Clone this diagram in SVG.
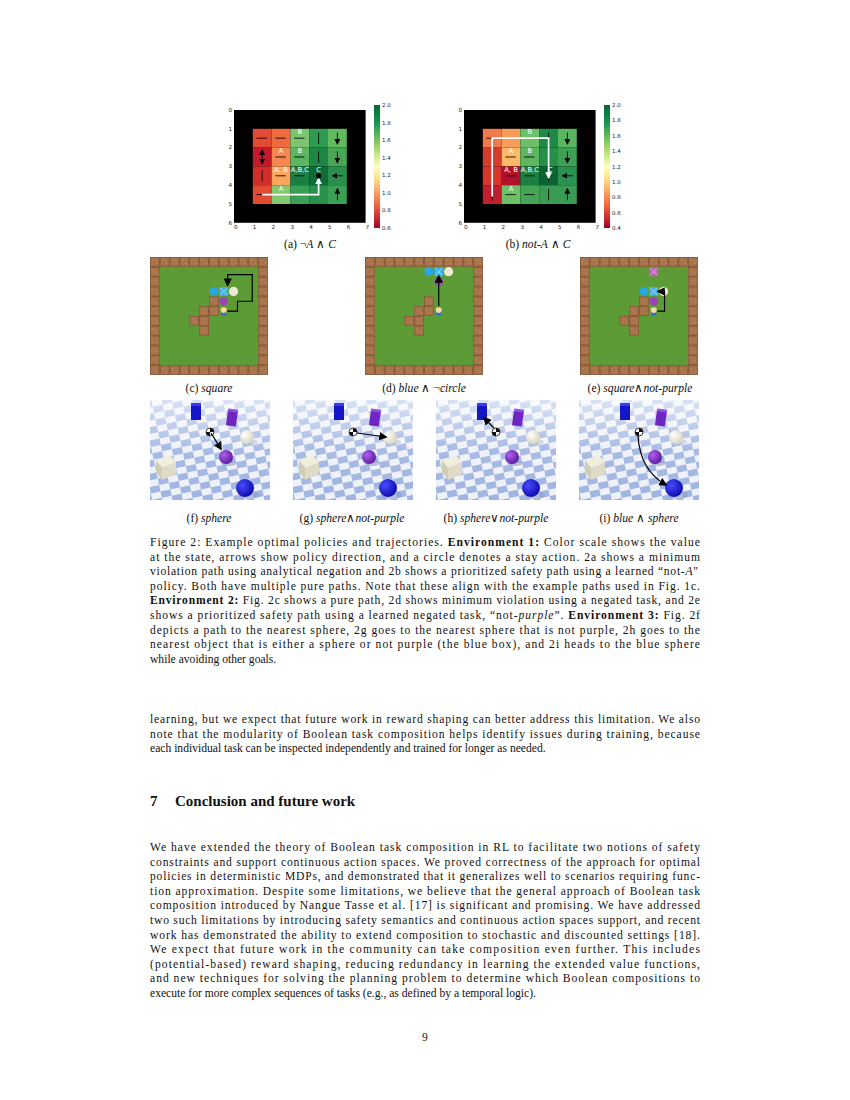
<svg xmlns="http://www.w3.org/2000/svg" width="850" height="1100" viewBox="0 0 850 1100">
<style>
.t{font-family:"Liberation Serif",serif;font-size:11.6px;fill:#111}
.cap{font-family:"Liberation Serif",serif;font-size:11.6px;fill:#111;text-anchor:middle}
.i{font-style:italic}
.b{font-weight:bold}
.ax{font-family:"DejaVu Sans",sans-serif;font-size:0.3px;fill:#222}
.cb{font-family:"DejaVu Sans",sans-serif;font-size:5.5px;fill:#222}
.cl{font-family:"DejaVu Sans",sans-serif;font-size:0.36px;fill:#fff;text-anchor:middle}
.ar{stroke:#000;stroke-width:0.045;fill:none;marker-end:url(#ah)}
.wp{stroke:#fff;stroke-width:0.09;fill:none;marker-end:url(#wh)}
.gp{stroke:#000;stroke-width:0.12;fill:none;marker-end:url(#ah)}
.sp{stroke:#000;stroke-width:1.2;fill:none;marker-end:url(#ah)}
</style>
<defs>
<marker id="ah" viewBox="0 0 10 10" refX="8" refY="5" markerWidth="7" markerHeight="7" orient="auto-start-reverse"><path d="M0,0L10,5L0,10z" fill="#000"/></marker>
<marker id="wh" viewBox="0 0 10 10" refX="8" refY="5" markerWidth="4" markerHeight="4" orient="auto"><path d="M0,0L10,5L0,10z" fill="#fff"/></marker>
<linearGradient id="rdylgn" x1="0" y1="1" x2="0" y2="0">
<stop offset="0" stop-color="#a50026"/><stop offset="0.2" stop-color="#f46d43"/><stop offset="0.4" stop-color="#fee08b"/><stop offset="0.5" stop-color="#ffffbf"/><stop offset="0.65" stop-color="#a6d96a"/><stop offset="0.85" stop-color="#1a9850"/><stop offset="1" stop-color="#006837"/>
</linearGradient>
<pattern id="brick" width="1" height="1" patternUnits="userSpaceOnUse"><rect width="1" height="1" fill="#a8744c"/><rect x="0.04" y="0.04" width="0.92" height="0.92" fill="none" stroke="#7e5234" stroke-width="0.07"/><circle cx="0.3" cy="0.35" r="0.06" fill="#c08c62"/><circle cx="0.7" cy="0.65" r="0.06" fill="#c08c62"/></pattern>
<pattern id="chk" width="20" height="20" patternUnits="userSpaceOnUse" patternTransform="translate(0,-6) rotate(-12) scale(1,0.65)"><rect width="20" height="20" fill="#eef1f8"/><rect width="10" height="10" fill="#9fb4e2"/><rect x="10" y="10" width="10" height="10" fill="#9fb4e2"/></pattern>
<linearGradient id="fade" x1="0" y1="0" x2="0" y2="1"><stop offset="0" stop-color="#fff" stop-opacity="0.6"/><stop offset="0.5" stop-color="#fff" stop-opacity="0.1"/><stop offset="1" stop-color="#fff" stop-opacity="0"/></linearGradient>
<radialGradient id="gB" cx="0.35" cy="0.35" r="0.7"><stop offset="0" stop-color="#4a4aff"/><stop offset="1" stop-color="#0a0aa8"/></radialGradient>
<radialGradient id="gP" cx="0.35" cy="0.35" r="0.7"><stop offset="0" stop-color="#b060f0"/><stop offset="1" stop-color="#5a1a9a"/></radialGradient>
<radialGradient id="gC" cx="0.35" cy="0.35" r="0.7"><stop offset="0" stop-color="#ffffff"/><stop offset="1" stop-color="#d8d4bc"/></radialGradient>
<g id="scene">
<rect width="120" height="100" fill="url(#chk)"/>
<rect width="120" height="100" fill="url(#fade)"/>
<rect x="41" y="5" width="10" height="15" fill="#1616c8"/><rect x="41" y="3" width="10" height="3" fill="#3a3af0"/>
<g transform="rotate(8 82 18)"><rect x="77" y="11" width="10" height="15" fill="#6f25c0"/><rect x="77" y="9" width="10" height="3" fill="#9050e0"/></g>
<ellipse cx="100" cy="42" rx="8" ry="3" fill="#b9c4dc" opacity="0.6"/>
<circle cx="97" cy="37" r="7" fill="url(#gC)"/>
<ellipse cx="79" cy="63" rx="8" ry="3" fill="#8f9dc4" opacity="0.6"/>
<circle cx="76" cy="57" r="7" fill="url(#gP)"/>
<polygon points="6,60 20,55 26,62 12,68" fill="#f0eedc"/><polygon points="6,60 12,68 12,80 6,72" fill="#cfcdb4"/><polygon points="12,68 26,62 26,74 12,80" fill="#dedcc6"/>
<ellipse cx="99" cy="95" rx="10" ry="4" fill="#8f9dc4" opacity="0.6"/>
<circle cx="95" cy="88" r="9" fill="url(#gB)"/>
<circle cx="60" cy="32" r="4" fill="#fff" stroke="#111" stroke-width="0.8"/><path d="M60,32L60,28A4,4 0 0 1 64,32z M60,32L60,36A4,4 0 0 1 56,32z" fill="#111"/>
</g>
</defs>
<rect width="850" height="1100" fill="#fff"/>

<g id="heatmap-a">
<g transform="translate(234,110) scale(18.8)">
<rect x="0" y="0" width="7" height="6" fill="#000"/>
<rect x="1" y="1" width="1" height="1" fill="#e34a33"/><rect x="2" y="1" width="1" height="1" fill="#ef6a3e"/><rect x="3" y="1" width="1" height="1" fill="#7cc66f"/><rect x="4" y="1" width="1" height="1" fill="#2e9a52"/><rect x="5" y="1" width="1" height="1" fill="#62ba60"/>
<rect x="1" y="2" width="1" height="1" fill="#c41a2c"/><rect x="2" y="2" width="1" height="1" fill="#f6874e"/><rect x="3" y="2" width="1" height="1" fill="#5eb660"/><rect x="4" y="2" width="1" height="1" fill="#1f8745"/><rect x="5" y="2" width="1" height="1" fill="#49a656"/>
<rect x="1" y="3" width="1" height="1" fill="#d32f2a"/><rect x="2" y="3" width="1" height="1" fill="#fca55e"/><rect x="3" y="3" width="1" height="1" fill="#1a7f44"/><rect x="4" y="3" width="1" height="1" fill="#0f6b38"/><rect x="5" y="3" width="1" height="1" fill="#2a8f4d"/>
<rect x="1" y="4" width="1" height="1" fill="#e24a33"/><rect x="2" y="4" width="1" height="1" fill="#84c96e"/><rect x="3" y="4" width="1" height="1" fill="#3aa055"/><rect x="4" y="4" width="1" height="1" fill="#2a914d"/><rect x="5" y="4" width="1" height="1" fill="#3aa055"/>
<path class="ar" d="M1.2,1.5H1.75M2.2,1.5H2.75M3.2,1.5H3.75M4.5,1.2V1.8M5.5,1.2V1.8"/>
<path d="M1.5,2.15V2.85" stroke="#000" stroke-width="0.045" marker-start="url(#ah)" marker-end="url(#ah)"/>
<path class="ar" d="M2.2,2.5H2.75M3.2,2.5H3.75M4.5,2.2V2.8M5.5,2.2V2.8"/>
<path class="ar" d="M1.5,3.2V3.8M2.2,3.5H2.75M3.2,3.5H3.75M5.8,3.5H5.25"/>
<path class="ar" d="M1.2,4.5H1.75M2.2,4.5H2.75M3.2,4.5H3.75M5.5,4.8V4.2"/>
<path class="wp" d="M1.5,4.5H4.5V3.65"/>
<circle cx="4.5" cy="3.5" r="0.14" fill="#000"/>
<text class="cl" x="3.5" y="1.3">B</text><text class="cl" x="2.5" y="2.3">A</text><text class="cl" x="3.5" y="2.3">B</text><text class="cl" x="2.5" y="3.3">A, B</text><text class="cl" x="3.5" y="3.3">A,B,C</text><text class="cl" x="4.5" y="3.3">C</text><text class="cl" x="2.5" y="4.3">A</text>
<text class="ax" x="0" y="6.35">0</text><text class="ax" x="1" y="6.35">1</text><text class="ax" x="2" y="6.35">2</text><text class="ax" x="3" y="6.35">3</text><text class="ax" x="4" y="6.35">4</text><text class="ax" x="5" y="6.35">5</text><text class="ax" x="6" y="6.35">6</text><text class="ax" x="7" y="6.35">7</text>
<g text-anchor="end"><text class="ax" x="-0.1" y="0.1">0</text><text class="ax" x="-0.1" y="1.1">1</text><text class="ax" x="-0.1" y="2.1">2</text><text class="ax" x="-0.1" y="3.1">3</text><text class="ax" x="-0.1" y="4.1">4</text><text class="ax" x="-0.1" y="5.1">5</text><text class="ax" x="-0.1" y="6.1">6</text></g>
</g>
<rect x="374" y="105" width="6" height="123" fill="url(#rdylgn)"/>
<g class="cb"><text x="382" y="107">2.0</text><text x="382" y="124.6">1.8</text><text x="382" y="142.1">1.6</text><text x="382" y="159.7">1.4</text><text x="382" y="177.3">1.2</text><text x="382" y="194.9">1.0</text><text x="382" y="212.4">0.8</text><text x="382" y="230">0.6</text></g>
<text class="cap" x="310" y="248">(a) ¬<tspan class="i">A</tspan> ∧ <tspan class="i">C</tspan></text>
</g>

<g id="heatmap-b">
<g transform="translate(464,110) scale(18.8)">
<rect x="0" y="0" width="7" height="6" fill="#000"/>
<rect x="1" y="1" width="1" height="1" fill="#f07a4c"/><rect x="2" y="1" width="1" height="1" fill="#f89c5a"/><rect x="3" y="1" width="1" height="1" fill="#6cc066"/><rect x="4" y="1" width="1" height="1" fill="#1f8a47"/><rect x="5" y="1" width="1" height="1" fill="#5ab560"/>
<rect x="1" y="2" width="1" height="1" fill="#d63b2e"/><rect x="2" y="2" width="1" height="1" fill="#fdb96a"/><rect x="3" y="2" width="1" height="1" fill="#5db761"/><rect x="4" y="2" width="1" height="1" fill="#258f4b"/><rect x="5" y="2" width="1" height="1" fill="#3e9f55"/>
<rect x="1" y="3" width="1" height="1" fill="#d9352a"/><rect x="2" y="3" width="1" height="1" fill="#b3102c"/><rect x="3" y="3" width="1" height="1" fill="#1a8041"/><rect x="4" y="3" width="1" height="1" fill="#0b6332"/><rect x="5" y="3" width="1" height="1" fill="#2b9150"/>
<rect x="1" y="4" width="1" height="1" fill="#c01f2e"/><rect x="2" y="4" width="1" height="1" fill="#6cc066"/><rect x="3" y="4" width="1" height="1" fill="#45a455"/><rect x="4" y="4" width="1" height="1" fill="#3a9c52"/><rect x="5" y="4" width="1" height="1" fill="#3a9c52"/>
<path class="ar" d="M1.2,1.5H1.75M2.2,1.5H2.75M3.2,1.5H3.75M4.5,1.2V1.8M5.5,1.2V1.8"/>
<path class="ar" d="M1.5,2.8V2.2M2.2,2.5H2.75M3.2,2.5H3.75M4.5,2.2V2.8M5.5,2.2V2.8"/>
<path class="ar" d="M1.5,3.8V3.2M2.8,3.5H2.25M3.2,3.5H3.75M4.5,3.2V3.8M5.8,3.5H5.25"/>
<path class="ar" d="M1.5,4.8V4.2M2.2,4.5H2.75M3.2,4.5H3.75M4.5,4.8V4.2M5.5,4.8V4.2"/>
<path class="wp" d="M1.5,4.6V1.5H4.5V3.6"/>
<text class="cl" x="3.5" y="1.3">B</text><text class="cl" x="2.5" y="2.3">A</text><text class="cl" x="3.5" y="2.3">B</text><text class="cl" x="2.5" y="3.3">A, B</text><text class="cl" x="3.5" y="3.3">A,B,C</text><text class="cl" x="4.6" y="3.3">C</text><text class="cl" x="2.5" y="4.3">A</text>
<text class="ax" x="0" y="6.35">0</text><text class="ax" x="1" y="6.35">1</text><text class="ax" x="2" y="6.35">2</text><text class="ax" x="3" y="6.35">3</text><text class="ax" x="4" y="6.35">4</text><text class="ax" x="5" y="6.35">5</text><text class="ax" x="6" y="6.35">6</text><text class="ax" x="7" y="6.35">7</text>
<g text-anchor="end"><text class="ax" x="-0.1" y="0.1">0</text><text class="ax" x="-0.1" y="1.1">1</text><text class="ax" x="-0.1" y="2.1">2</text><text class="ax" x="-0.1" y="3.1">3</text><text class="ax" x="-0.1" y="4.1">4</text><text class="ax" x="-0.1" y="5.1">5</text><text class="ax" x="-0.1" y="6.1">6</text></g>
</g>
<rect x="604" y="105" width="6" height="123" fill="url(#rdylgn)"/>
<g class="cb"><text x="612" y="107">2.0</text><text x="612" y="122.4">1.8</text><text x="612" y="137.8">1.6</text><text x="612" y="153.1">1.4</text><text x="612" y="168.5">1.2</text><text x="612" y="183.9">1.0</text><text x="612" y="199.3">0.8</text><text x="612" y="214.6">0.6</text><text x="612" y="230">0.4</text></g>
<text class="cap" x="538" y="248">(b) <tspan class="i">not-A</tspan> ∧ <tspan class="i">C</tspan></text>
</g>

<g id="grid-c">
<g transform="translate(150,257) scale(9.83)">
<rect width="12" height="12" fill="url(#brick)"/><rect x="1" y="1" width="10" height="10" fill="#5c9b36"/>
<rect x="6" y="4" width="1" height="1" fill="url(#brick)"/><rect x="5" y="5" width="2" height="1" fill="url(#brick)"/><rect x="4" y="6" width="2" height="1" fill="url(#brick)"/><rect x="5" y="7" width="1" height="1" fill="url(#brick)"/>
<circle cx="6.5" cy="3.5" r="0.45" fill="#2aa6e0"/>
<rect x="7.05" y="3.05" width="0.9" height="0.9" fill="#3cb2e8"/><path d="M7.15,3.15L7.85,3.85M7.85,3.15L7.15,3.85" stroke="#9ad8f4" stroke-width="0.1"/>
<circle cx="8.5" cy="3.5" r="0.47" fill="#efe9d2"/>
<circle cx="7.5" cy="4.5" r="0.45" fill="#9a45b2"/>
<rect x="7.25" y="5.6" width="0.5" height="0.35" fill="#2a6fd0"/><circle cx="7.5" cy="5.4" r="0.3" fill="#f7d9a8"/><path d="M7.18,5.35A0.33,0.33 0 0 1 7.82,5.35L7.82,5.2L7.18,5.2z" fill="#f5c518"/>
<path class="gp" d="M7.85,5.5H8.9V4.5H10.4V1.8H7.9V2.85"/>
</g>
<text class="cap" x="209" y="392">(c) <tspan class="i">square</tspan></text>
</g>

<g id="grid-d">
<g transform="translate(365,257) scale(9.83)">
<rect width="12" height="12" fill="url(#brick)"/><rect x="1" y="1" width="10" height="10" fill="#5c9b36"/>
<rect x="6" y="4" width="1" height="1" fill="url(#brick)"/><rect x="5" y="5" width="2" height="1" fill="url(#brick)"/><rect x="4" y="6" width="2" height="1" fill="url(#brick)"/><rect x="5" y="7" width="1" height="1" fill="url(#brick)"/>
<circle cx="6.5" cy="1.5" r="0.45" fill="#2aa6e0"/>
<rect x="7.05" y="1.05" width="0.9" height="0.9" fill="#3cb2e8"/><path d="M7.15,1.15L7.85,1.85M7.85,1.15L7.15,1.85" stroke="#9ad8f4" stroke-width="0.1"/>
<circle cx="8.5" cy="1.5" r="0.47" fill="#efe9d2"/>
<circle cx="7.5" cy="2.5" r="0.45" fill="#9a45b2"/>
<rect x="7.25" y="5.6" width="0.5" height="0.35" fill="#2a6fd0"/><circle cx="7.5" cy="5.4" r="0.3" fill="#f7d9a8"/><path d="M7.18,5.35A0.33,0.33 0 0 1 7.82,5.35L7.82,5.2L7.18,5.2z" fill="#f5c518"/>
<path class="gp" d="M7.5,5H7.5V1.95"/>
</g>
<text class="cap" x="424" y="392">(d) <tspan class="i">blue</tspan> ∧ ¬<tspan class="i">circle</tspan></text>
</g>

<g id="grid-e">
<g transform="translate(580,257) scale(9.83)">
<rect width="12" height="12" fill="url(#brick)"/><rect x="1" y="1" width="10" height="10" fill="#5c9b36"/>
<rect x="6" y="4" width="1" height="1" fill="url(#brick)"/><rect x="5" y="5" width="2" height="1" fill="url(#brick)"/><rect x="4" y="6" width="2" height="1" fill="url(#brick)"/><rect x="5" y="7" width="1" height="1" fill="url(#brick)"/>
<rect x="7.05" y="1.05" width="0.9" height="0.9" fill="#c35dbe"/><path d="M7.15,1.15L7.85,1.85M7.85,1.15L7.15,1.85" stroke="#e7a6e3" stroke-width="0.1"/>
<circle cx="6.5" cy="3.5" r="0.45" fill="#2aa6e0"/>
<rect x="7.05" y="3.05" width="0.9" height="0.9" fill="#3cb2e8"/><path d="M7.15,3.15L7.85,3.85M7.85,3.15L7.15,3.85" stroke="#9ad8f4" stroke-width="0.1"/>
<circle cx="8.5" cy="3.5" r="0.47" fill="#efe9d2"/>
<circle cx="7.5" cy="4.5" r="0.45" fill="#9a45b2"/>
<rect x="7.25" y="5.6" width="0.5" height="0.35" fill="#2a6fd0"/><circle cx="7.5" cy="5.4" r="0.3" fill="#f7d9a8"/><path d="M7.18,5.35A0.33,0.33 0 0 1 7.82,5.35L7.82,5.2L7.18,5.2z" fill="#f5c518"/>
<path class="gp" d="M7.85,5.5H8.6V3.5H7.95"/>
</g>
<text class="cap" x="640" y="392">(e) <tspan class="i">square</tspan>∧<tspan class="i">not-purple</tspan></text>
</g>

<g id="scene-f"><use href="#scene" x="150" y="400"/><path class="sp" d="M211,433L221,449"/><text class="cap" x="209" y="522">(f) <tspan class="i">sphere</tspan></text></g>
<g id="scene-g"><use href="#scene" x="293" y="400"/><path class="sp" d="M357,433L386,437"/><text class="cap" x="352" y="522">(g) <tspan class="i">sphere</tspan>∧<tspan class="i">not-purple</tspan></text></g>
<g id="scene-h"><use href="#scene" x="436" y="400"/><path class="sp" d="M494,428L484,418"/><text class="cap" x="496" y="522">(h) <tspan class="i">sphere</tspan>∨<tspan class="i">not-purple</tspan></text></g>
<g id="scene-i"><use href="#scene" x="579" y="400"/><path class="sp" d="M638,436Q640,470 666,485"/><text class="cap" x="639" y="522">(i) <tspan class="i">blue</tspan> ∧ <tspan class="i">sphere</tspan></text></g>

<g id="caption">
<text class="t" x="150" y="546" textLength="550" lengthAdjust="spacing">Figure 2: Example optimal policies and trajectories. <tspan class="b">Environment 1:</tspan> Color scale shows the value</text>
<text class="t" x="150" y="560.6" textLength="550" lengthAdjust="spacing">at the state, arrows show policy direction, and a circle denotes a stay action. 2a shows a minimum</text>
<text class="t" x="150" y="575.2" textLength="548" lengthAdjust="spacing">violation path using analytical negation and 2b shows a prioritized safety path using a learned “not-<tspan class="i">A</tspan>"</text>
<text class="t" x="150" y="589.8" textLength="550" lengthAdjust="spacing">policy. Both have multiple pure paths. Note that these align with the example paths used in Fig. 1c.</text>
<text class="t" x="150" y="604.4" textLength="550" lengthAdjust="spacing"><tspan class="b">Environment 2:</tspan> Fig. 2c shows a pure path, 2d shows minimum violation using a negated task, and 2e</text>
<text class="t" x="150" y="619" textLength="550" lengthAdjust="spacing">shows a prioritized safety path using a learned negated task, “not-<tspan class="i">purple</tspan>”. <tspan class="b">Environment 3:</tspan> Fig. 2f</text>
<text class="t" x="150" y="633.6" textLength="550" lengthAdjust="spacing">depicts a path to the nearest sphere, 2g goes to the nearest sphere that is not purple, 2h goes to the</text>
<text class="t" x="150" y="648.2" textLength="550" lengthAdjust="spacing">nearest object that is either a sphere or not purple (the blue box), and 2i heads to the blue sphere</text>
<text class="t" x="150" y="662.8">while avoiding other goals.</text>
</g>

<g id="body">
<text class="t" x="150" y="723" textLength="550" lengthAdjust="spacing">learning, but we expect that future work in reward shaping can better address this limitation. We also</text>
<text class="t" x="150" y="737.6" textLength="550" lengthAdjust="spacing">note that the modularity of Boolean task composition helps identify issues during training, because</text>
<text class="t" x="150" y="752.2">each individual task can be inspected independently and trained for longer as needed.</text>
<text x="150" y="806" font-family="Liberation Serif, serif" font-size="15" font-weight="bold" fill="#111">7<tspan x="175">Conclusion and future work</tspan></text>
<text class="t" x="150" y="851" textLength="550" lengthAdjust="spacing">We have extended the theory of Boolean task composition in RL to facilitate two notions of safety</text>
<text class="t" x="150" y="865.6" textLength="550" lengthAdjust="spacing">constraints and support continuous action spaces. We proved correctness of the approach for optimal</text>
<text class="t" x="150" y="880.2" textLength="550" lengthAdjust="spacing">policies in deterministic MDPs, and demonstrated that it generalizes well to scenarios requiring func-</text>
<text class="t" x="150" y="894.8" textLength="550" lengthAdjust="spacing">tion approximation. Despite some limitations, we believe that the general approach of Boolean task</text>
<text class="t" x="150" y="909.4" textLength="550" lengthAdjust="spacing">composition introduced by Nangue Tasse et al. [17] is significant and promising. We have addressed</text>
<text class="t" x="150" y="924" textLength="550" lengthAdjust="spacing">two such limitations by introducing safety semantics and continuous action spaces support, and recent</text>
<text class="t" x="150" y="938.6" textLength="550" lengthAdjust="spacing">work has demonstrated the ability to extend composition to stochastic and discounted settings [18].</text>
<text class="t" x="150" y="953.2" textLength="550" lengthAdjust="spacing">We expect that future work in the community can take composition even further. This includes</text>
<text class="t" x="150" y="967.8" textLength="550" lengthAdjust="spacing">(potential-based) reward shaping, reducing redundancy in learning the extended value functions,</text>
<text class="t" x="150" y="982.4" textLength="550" lengthAdjust="spacing">and new techniques for solving the planning problem to determine which Boolean compositions to</text>
<text class="t" x="150" y="997">execute for more complex sequences of tasks (e.g., as defined by a temporal logic).</text>
<text class="cap" x="425" y="1041">9</text>
</g>
</svg>
